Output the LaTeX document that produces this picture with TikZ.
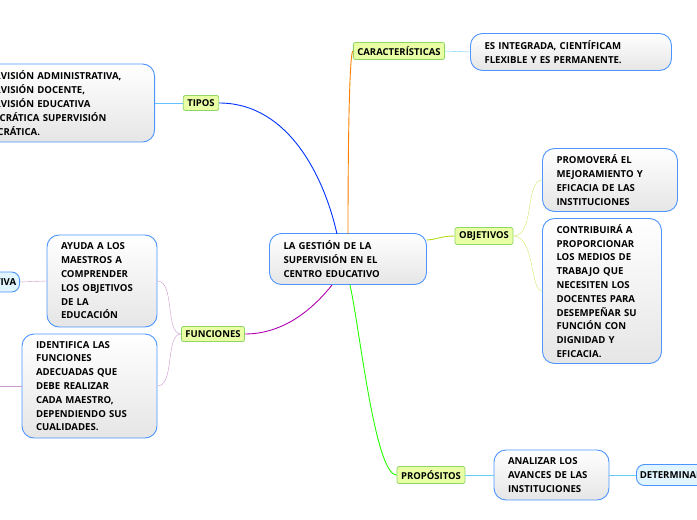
\documentclass[tikz,border=0pt]{standalone}
\usepackage{fontspec}
\setmainfont{Open Sans}
\begin{document}
\begin{tikzpicture}[x=1pt,y=-1pt,
    topic/.style={draw=green!45!olive!60, fill=green!25!yellow!35, rounded corners=2pt, line width=0.8pt,
      font=\fontsize{9.5}{11}\selectfont\bfseries, inner sep=4pt},
    leaf/.style={draw=blue!60!cyan!70, line width=0.9pt, rounded corners=12pt, top color=white, bottom color=gray!20,
      font=\fontsize{9.6}{13.8}\selectfont\bfseries, align=left, inner xsep=14pt, inner ysep=5pt},
    stub/.style={draw=blue!60!cyan!70, line width=0.9pt, rounded corners=8pt, fill=cyan!12,
      font=\fontsize{9.6}{11}\selectfont\bfseries}]
    \useasboundingbox (0,0) rectangle (697,520);
    % central node
    \node [leaf, minimum width=157pt, minimum height=51pt, text width=129pt] (centro) at (348,259)
      {LA GESTIÓN DE LA\\SUPERVISIÓN EN EL\\CENTRO EDUCATIVO};
    % topics
    \node [topic] (carac) at (399,51) {CARACTERÍSTICAS};
    \node [topic] (tipos) at (201,103) {TIPOS};
    \node [topic] (obj) at (484,236) {OBJETIVOS};
    \node [topic] (fun) at (213,334) {FUNCIONES};
    \node [topic] (prop) at (431,475) {PROPÓSITOS};
    % leaves
    \node [leaf, minimum width=201pt, minimum height=37pt, text width=173pt] (caracA) at (571,52)
      {ES INTEGRADA, CIENTÍFICAM\\FLEXIBLE Y ES PERMANENTE.};
    \node [leaf, minimum width=198pt, minimum height=78pt, text width=170pt, anchor=east] (tiposA) at (155,103)
      {SUPERVISIÓN ADMINISTRATIVA,\\SUPERVISIÓN DOCENTE,\\SUPERVISIÓN EDUCATIVA\\DEMOCRÁTICA  SUPERVISIÓN\\AUTOCRÁTICA.};
    \node [leaf, minimum width=135pt, minimum height=63pt, text width=107pt] (objA) at (610,180)
      {PROMOVERÁ EL\\MEJORAMIENTO Y\\EFICACIA DE LAS\\INSTITUCIONES};
    \node [leaf, minimum width=119pt, minimum height=145pt, text width=91pt] (objB) at (602,291)
      {CONTRIBUIRÁ A\\PROPORCIONAR\\LOS MEDIOS DE\\TRABAJO QUE\\NECESITEN LOS\\DOCENTES PARA\\DESEMPEÑAR SU\\FUNCIÓN CON\\DIGNIDAD Y\\EFICACIA.};
    \node [leaf, minimum width=110pt, minimum height=92pt, text width=82pt] (funA) at (102,281)
      {AYUDA A LOS\\MAESTROS A\\COMPRENDER\\LOS OBJETIVOS\\DE LA\\EDUCACIÓN};
    \node [leaf, minimum width=135pt, minimum height=104pt, text width=107pt] (funB) at (89.5,386)
      {IDENTIFICA LAS\\FUNCIONES\\ADECUADAS QUE\\DEBE REALIZAR\\CADA MAESTRO,\\DEPENDIENDO SUS\\CUALIDADES.};
    \node [leaf, minimum width=115pt, minimum height=50pt, text width=87pt] (propA) at (551.5,475)
      {ANALIZAR LOS\\AVANCES DE LAS\\INSTITUCIONES};
    \node [stub, minimum height=21pt, anchor=west] (propB) at (636,475) {DETERMINAR};
    \node [stub, minimum height=20pt, anchor=east] (funAA) at (20,282) {EVALUATIVA};
    \coordinate (funBB) at (-5,386);
    % main branches
    \draw [blue!80!cyan, line width=0.9pt] (tipos.east) .. controls (290,103) and (325,180) .. (337,234);
    \draw [orange, line width=0.9pt] (carac.west) .. controls (350,51) and (348,120) .. (348,234);
    \draw [yellow!70!green, line width=0.9pt] (obj.west) .. controls (440,236) and (435,240) .. (427,240);
    \draw [violet!60!magenta, line width=0.9pt] (fun.east) .. controls (290,334) and (320,300) .. (332,285);
    \draw [green!80!lime, line width=0.9pt] (prop.west) .. controls (375,475) and (360,330) .. (350,285);
    % sub branches
    \draw [blue!40!cyan!60] (tiposA.east) -- (tipos.west);
    \draw [cyan!60] (caracA.west) -- (carac.east);
    \draw [yellow!70!green!60] (obj.east) .. controls (535,236) and (525,180) .. (objA.west);
    \draw [yellow!70!green!60] (obj.east) .. controls (535,236) and (530,291) .. (objB.west);
    \draw [violet!40] (fun.west) .. controls (165,334) and (175,281) .. (funA.east);
    \draw [violet!40] (fun.west) .. controls (165,334) and (175,386) .. (funB.east);
    \draw [violet!40] (funA.west) -- (funAA.east);
    \draw [violet!40] (funB.west) -- (funBB);
    \draw [cyan!60] (prop.east) -- (propA.west);
    \draw [cyan!60] (propA.east) -- (propB.west);
\end{tikzpicture}
\end{document}
